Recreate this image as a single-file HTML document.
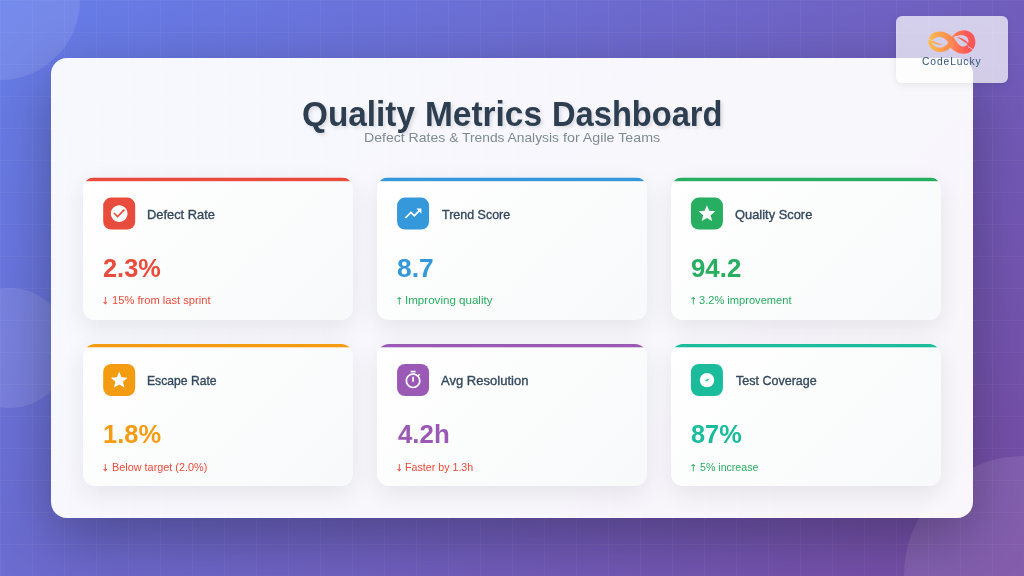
<!DOCTYPE html>
<html lang="en"><head><meta charset="utf-8"><title>Quality Metrics Dashboard</title>
<style>
*{margin:0;padding:0;box-sizing:border-box}
html,body{width:1024px;height:576px;overflow:hidden}
body{position:relative;font-family:"Liberation Sans",sans-serif;background:#6d66c6}
.bg{position:absolute;left:0;top:0;width:1024px;height:576px;background:linear-gradient(135deg,#667eea 0%,#764ba2 100%)}
.grid{position:absolute;left:0;top:0;width:1024px;height:576px;
 background-image:linear-gradient(to right,rgba(255,255,255,0.04) 1px,transparent 1px),linear-gradient(to bottom,rgba(255,255,255,0.04) 1px,transparent 1px);
 background-size:32px 32px}
.circ{position:absolute;border-radius:50%;background:rgba(255,255,255,0.1)}
.c1{left:-80px;top:-80px;width:160px;height:160px}
.c2{left:-51px;top:288px;width:120px;height:120px}
.c3{left:904px;top:456px;width:240px;height:240px}
.panel{position:absolute;left:51.2px;top:57.6px;width:921.6px;height:460.8px;border-radius:16px;background:rgba(255,255,255,0.95);box-shadow:0 20px 60px rgba(0,0,0,0.3)}
.card{position:absolute;width:269.87px;height:142.4px;border-radius:12px;background:linear-gradient(135deg,#ffffff 0%,#f8f9fa 100%);box-shadow:0 8px 25px rgba(0,0,0,0.08);overflow:hidden}
.card .bar{position:absolute;left:0;top:0;width:100%;height:3px;display:block}
.ico{position:absolute;width:32px;height:32px;border-radius:8px}
.t{position:absolute;white-space:nowrap;display:block}
.logo{position:absolute;left:896px;top:16px;width:112px;height:67px;border-radius:6px;background:rgba(255,255,255,0.7);box-shadow:0 2px 8px rgba(0,0,0,0.08)}
svg{position:absolute;overflow:visible}
h1,p{font-size:inherit;font-weight:inherit;line-height:0}

</style></head>
<body>
<div class="bg"></div>
<div class="grid"></div>
<div class="circ c1"></div><div class="circ c2"></div><div class="circ c3"></div>
<div class="panel"></div>
<div class="card" style="left:83.20px;top:177px;height:143px;background:linear-gradient(to bottom,rgba(231,76,60,0.3) 0,rgba(231,76,60,0.3) 1px,#e74c3c 1px,#e74c3c 4px,rgba(231,76,60,0.2) 4px,rgba(231,76,60,0.2) 5px) 0 0/100% 5px no-repeat,linear-gradient(135deg,#ffffff 0%,#f8f9fa 100%) 0 1px/100% 142px no-repeat"></div>
<div class="card" style="left:377.07px;top:177px;height:143px;background:linear-gradient(to bottom,rgba(52,152,219,0.3) 0,rgba(52,152,219,0.3) 1px,#3498db 1px,#3498db 4px,rgba(52,152,219,0.2) 4px,rgba(52,152,219,0.2) 5px) 0 0/100% 5px no-repeat,linear-gradient(135deg,#ffffff 0%,#f8f9fa 100%) 0 1px/100% 142px no-repeat"></div>
<div class="card" style="left:670.93px;top:177px;height:143px;background:linear-gradient(to bottom,rgba(39,174,96,0.3) 0,rgba(39,174,96,0.3) 1px,#27ae60 1px,#27ae60 4px,rgba(39,174,96,0.2) 4px,rgba(39,174,96,0.2) 5px) 0 0/100% 5px no-repeat,linear-gradient(135deg,#ffffff 0%,#f8f9fa 100%) 0 1px/100% 142px no-repeat"></div>
<div class="card" style="left:83.20px;top:344px;height:142.4px;background:linear-gradient(to bottom,#f39c12 0,#f39c12 3px,rgba(243,156,18,0.3) 3px,rgba(243,156,18,0.3) 4px) 0 0/100% 4px no-repeat,linear-gradient(135deg,#ffffff 0%,#f8f9fa 100%)"></div>
<div class="card" style="left:377.07px;top:344px;height:142.4px;background:linear-gradient(to bottom,#9b59b6 0,#9b59b6 3px,rgba(155,89,182,0.3) 3px,rgba(155,89,182,0.3) 4px) 0 0/100% 4px no-repeat,linear-gradient(135deg,#ffffff 0%,#f8f9fa 100%)"></div>
<div class="card" style="left:670.93px;top:344px;height:142.4px;background:linear-gradient(to bottom,#1abc9c 0,#1abc9c 3px,rgba(26,188,156,0.3) 3px,rgba(26,188,156,0.3) 4px) 0 0/100% 4px no-repeat,linear-gradient(135deg,#ffffff 0%,#f8f9fa 100%)"></div>
<svg style="left:103px;top:197px" width="34" height="34" viewBox="0 0 34 34"><g transform="translate(0.20 0.60)"><rect width="32" height="32" rx="8" fill="#e74c3c"/><path transform="translate(6 6) scale(0.83333)" d="M12 2C6.48 2 2 6.48 2 12s4.48 10 10 10 10-4.48 10-10S17.52 2 12 2zm-2 15l-5-5 1.41-1.41L10 14.17l7.59-7.59L19 8l-9 9z" fill="#fff"/></g></svg>
<svg style="left:397px;top:197px" width="34" height="34" viewBox="0 0 34 34"><g transform="translate(0.07 0.60)"><rect width="32" height="32" rx="8" fill="#3498db"/><path transform="translate(6 6) scale(0.83333)" d="M16 6l2.29 2.29-4.88 4.88-4-4L2 16.59 3.41 18l6-6 4 4 6.3-6.29L22 12V6z" fill="#fff"/></g></svg>
<svg style="left:690px;top:197px" width="34" height="34" viewBox="0 0 34 34"><g transform="translate(0.93 0.60)"><rect width="32" height="32" rx="8" fill="#27ae60"/><path transform="translate(6 6) scale(0.83333)" d="M12 17.27L18.18 21l-1.64-7.03L22 9.24l-7.19-.61L12 2 9.19 8.63 2 9.24l5.46 4.73L5.82 21z" fill="#fff"/></g></svg>
<svg style="left:103px;top:364px" width="34" height="34" viewBox="0 0 34 34"><g transform="translate(0.20 0.00)"><rect width="32" height="32" rx="8" fill="#f39c12"/><path transform="translate(6 6) scale(0.83333)" d="M12 17.27L18.18 21l-1.64-7.03L22 9.24l-7.19-.61L12 2 9.19 8.63 2 9.24l5.46 4.73L5.82 21z" fill="#fff"/></g></svg>
<svg style="left:397px;top:364px" width="34" height="34" viewBox="0 0 34 34"><g transform="translate(0.07 0.00)"><rect width="32" height="32" rx="8" fill="#9b59b6"/><path transform="translate(6 6) scale(0.83333)" d="M15 1H9v2h6V1zm-4 13h2V8h-2v6zm8.03-6.61l1.42-1.42c-.43-.51-.9-.99-1.41-1.41l-1.42 1.42C16.07 4.74 14.12 4 12 4c-4.97 0-9 4.03-9 9s4.02 9 9 9 9-4.03 9-9c0-2.12-.74-4.07-1.97-5.61zM12 20c-3.87 0-7-3.13-7-7s3.13-7 7-7 7 3.13 7 7-3.13 7-7 7z" fill="#fff"/></g></svg>
<svg style="left:690px;top:364px" width="34" height="34" viewBox="0 0 34 34"><g transform="translate(0.93 0.00)"><rect width="32" height="32" rx="8" fill="#1abc9c"/><circle cx="16.1" cy="16.1" r="7.2" fill="#fff"/><path d="M13.7 16.4L18.9 14.2L15.8 17.7L15.3 16.7Z" fill="#1abc9c"/></g></svg>
<div class="logo"></div>
<svg style="left:924px;top:26px" width="56" height="32" viewBox="0 0 56 32">
<defs><linearGradient id="lg" gradientUnits="userSpaceOnUse" x1="5" y1="0" x2="51" y2="0"><stop offset="0" stop-color="#fdbb4e"/><stop offset="0.5" stop-color="#ff8652"/><stop offset="0.8" stop-color="#ff5a55"/><stop offset="1" stop-color="#ff5458"/></linearGradient></defs>
<path fill-rule="evenodd" fill="url(#lg)" d="M27.8 10.5 C24 7 20 5.6 15.2 5.6 C9 5.6 4.4 9.8 4.4 15.6 C4.4 21.6 9.5 26.1 16 26.1 C20.5 26.1 24 24.5 26.7 21.7 C30 25.5 34.5 27.8 40 27.8 C46.5 27.8 51.4 22.8 51.4 16 C51.4 9.2 46.5 4.2 40 4.2 C35 4.2 31 6.5 27.8 10.5 Z
M8.3 16 C8.3 13 11.5 11.1 15.5 11.1 C19.5 11.1 22.5 14 24.4 16.7 C22 19.5 19.5 21.7 16 21.7 C11.5 21.7 8.3 19.2 8.3 16 Z
M29.4 10.9 C32 9.7 35 9.2 37.8 9.2 C42 9.2 44.4 11.8 44.4 15 C44.4 18.2 42 20.6 38.9 20.6 C35.5 20.6 32 15 29.4 10.9 Z"/>
<path d="M8.2 14.0 C12 16.4 15.5 17.9 19.3 18.9 C15.5 19.4 11.5 18.6 8.1 16.6 Z" fill="url(#lg)"/>
<path d="M4.6 12.8 L9.0 15.0" stroke="#dcd5ee" stroke-width="0.7" fill="none"/>
<path d="M32.6 10.9 C37.8 11.4 43.2 14.2 45.2 19.2 C41.5 16.4 37.5 14.0 32.6 10.9 Z" fill="url(#lg)"/>
<path d="M43.9 20.4 L49 23.6" stroke="#dcd5ee" stroke-width="0.8" fill="none"/>
</svg>

<h1><span class="t" style="left:301.56px;top:92.14px;font-size:34.2px;line-height:44px;font-weight:700;color:#2c3e50;transform-origin:0 50%;transform:scaleX(0.9749);text-shadow:2px 2px 4px rgba(0,0,0,0.12);">Quality</span><span class="t" style="left:425.31px;top:92.14px;font-size:34.2px;line-height:44px;font-weight:700;color:#2c3e50;transform-origin:0 50%;transform:scaleX(0.9777);text-shadow:2px 2px 4px rgba(0,0,0,0.12);">Metrics</span><span class="t" style="left:552.16px;top:92.14px;font-size:34.2px;line-height:44px;font-weight:700;color:#2c3e50;transform-origin:0 50%;transform:scaleX(0.9549);text-shadow:2px 2px 4px rgba(0,0,0,0.12);">Dashboard</span></h1>
<p><span class="t" style="left:363.60px;top:128.89px;font-size:13.3px;line-height:17px;font-weight:400;color:#7f8c8d;transform-origin:0 50%;transform:scaleX(1.0583);">Defect Rates &amp;</span><span class="t" style="left:462.08px;top:128.89px;font-size:13.3px;line-height:17px;font-weight:400;color:#7f8c8d;transform-origin:0 50%;transform:scaleX(1.0383);">Trends Analysis</span><span class="t" style="left:563.30px;top:128.89px;font-size:13.3px;line-height:17px;font-weight:400;color:#7f8c8d;transform-origin:0 50%;transform:scaleX(1.0714);">for Agile Teams</span></p>
<span class="t" style="left:146.89px;top:206.63px;font-size:12.6px;line-height:16px;font-weight:400;color:#34495e;transform-origin:0 50%;transform:scaleX(1.0215);-webkit-text-stroke:0.35px #34495e;">Defect Rate</span>
<span class="t" style="left:441.50px;top:206.63px;font-size:12.6px;line-height:16px;font-weight:400;color:#34495e;transform-origin:0 50%;transform:scaleX(0.9907);-webkit-text-stroke:0.35px #34495e;">Trend Score</span>
<span class="t" style="left:735.10px;top:206.63px;font-size:12.6px;line-height:16px;font-weight:400;color:#34495e;transform-origin:0 50%;transform:scaleX(1.0229);-webkit-text-stroke:0.35px #34495e;">Quality Score</span>
<span class="t" style="left:146.75px;top:373.43px;font-size:12.6px;line-height:16px;font-weight:400;color:#34495e;transform-origin:0 50%;transform:scaleX(0.9644);-webkit-text-stroke:0.35px #34495e;">Escape Rate</span>
<span class="t" style="left:441.25px;top:373.43px;font-size:12.6px;line-height:16px;font-weight:400;color:#34495e;transform-origin:0 50%;transform:scaleX(1.0343);-webkit-text-stroke:0.35px #34495e;">Avg Resolution</span>
<span class="t" style="left:735.50px;top:373.43px;font-size:12.6px;line-height:16px;font-weight:400;color:#34495e;transform-origin:0 50%;transform:scaleX(0.9938);-webkit-text-stroke:0.35px #34495e;">Test Coverage</span>
<span class="t" style="left:103.01px;top:250.85px;font-size:26.1px;line-height:34px;font-weight:700;color:#e74c3c;transform-origin:0 50%;transform:scaleX(0.9709);">2.3%</span>
<span class="t" style="left:397.08px;top:250.85px;font-size:26.1px;line-height:34px;font-weight:700;color:#3498db;transform-origin:0 50%;transform:scaleX(1.0114);">8.7</span>
<span class="t" style="left:691.09px;top:250.85px;font-size:26.1px;line-height:34px;font-weight:700;color:#27ae60;transform-origin:0 50%;transform:scaleX(0.9892);">94.2</span>
<span class="t" style="left:103.31px;top:417.25px;font-size:26.1px;line-height:34px;font-weight:700;color:#f39c12;transform-origin:0 50%;transform:scaleX(0.9759);">1.8%</span>
<span class="t" style="left:397.50px;top:417.25px;font-size:26.1px;line-height:34px;font-weight:700;color:#9b59b6;transform-origin:0 50%;transform:scaleX(0.9891);">4.2h</span>
<span class="t" style="left:691.11px;top:417.25px;font-size:26.1px;line-height:34px;font-weight:700;color:#1abc9c;transform-origin:0 50%;transform:scaleX(0.9716);">87%</span>
<span class="t" style="left:111.90px;top:293.09px;font-size:11.0px;line-height:14px;font-weight:400;color:#e74c3c;transform-origin:0 50%;transform:scaleX(1.0139);">15% from last sprint</span>
<span class="t" style="left:102.25px;top:293.09px;font-size:11.0px;line-height:14px;font-weight:400;color:#e74c3c;transform-origin:0 10.81px;transform:translateY(-0.07px) scale(1.2727,1.0718);-webkit-text-stroke:0.2px #e74c3c;">↓</span>
<span class="t" style="left:405.00px;top:293.09px;font-size:11.0px;line-height:14px;font-weight:400;color:#27ae60;transform-origin:0 50%;transform:scaleX(1.0523);">Improving quality</span>
<span class="t" style="left:395.95px;top:293.09px;font-size:11.0px;line-height:14px;font-weight:400;color:#27ae60;transform-origin:0 10.81px;transform:translateY(-0.07px) scale(1.2727,1.0718);-webkit-text-stroke:0.2px #27ae60;">↑</span>
<span class="t" style="left:699.35px;top:293.09px;font-size:11.0px;line-height:14px;font-weight:400;color:#27ae60;transform-origin:0 50%;transform:scaleX(1.0086);">3.2% improvement</span>
<span class="t" style="left:690.25px;top:293.09px;font-size:11.0px;line-height:14px;font-weight:400;color:#27ae60;transform-origin:0 10.81px;transform:translateY(-0.07px) scale(1.2727,1.0718);-webkit-text-stroke:0.2px #27ae60;">↑</span>
<span class="t" style="left:111.60px;top:459.79px;font-size:11.0px;line-height:14px;font-weight:400;color:#e74c3c;transform-origin:0 50%;transform:scaleX(0.9871);">Below target (2.0%)</span>
<span class="t" style="left:102.35px;top:459.79px;font-size:11.0px;line-height:14px;font-weight:400;color:#e74c3c;transform-origin:0 10.81px;transform:translateY(-0.07px) scale(1.2727,1.0718);-webkit-text-stroke:0.2px #e74c3c;">↓</span>
<span class="t" style="left:405.27px;top:459.79px;font-size:11.0px;line-height:14px;font-weight:400;color:#e74c3c;transform-origin:0 50%;transform:scaleX(0.9702);">Faster by 1.3h</span>
<span class="t" style="left:396.15px;top:459.79px;font-size:11.0px;line-height:14px;font-weight:400;color:#e74c3c;transform-origin:0 10.81px;transform:translateY(-0.07px) scale(1.2727,1.0718);-webkit-text-stroke:0.2px #e74c3c;">↓</span>
<span class="t" style="left:699.57px;top:459.79px;font-size:11.0px;line-height:14px;font-weight:400;color:#27ae60;transform-origin:0 50%;transform:scaleX(0.9639);">5% increase</span>
<span class="t" style="left:690.25px;top:459.79px;font-size:11.0px;line-height:14px;font-weight:400;color:#27ae60;transform-origin:0 10.81px;transform:translateY(-0.07px) scale(1.2727,1.0718);-webkit-text-stroke:0.2px #27ae60;">↑</span>
<span class="t" style="left:922.42px;top:55.33px;font-size:10.3px;line-height:13px;font-weight:400;color:#34567a;transform-origin:0 50%;transform:scaleX(0.9976);letter-spacing:0.9px;">CodeLucky</span>
</body></html>
